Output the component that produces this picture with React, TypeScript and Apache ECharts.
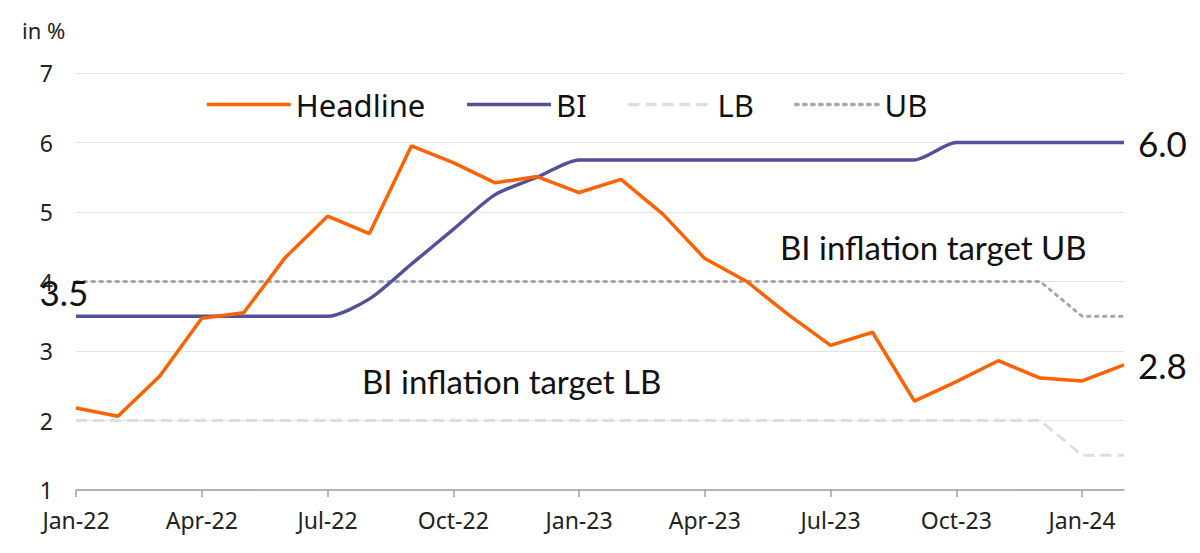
import * as echarts from 'echarts';
import { useEffect, useRef } from 'react';

// Jan-22 .. Feb-24, monthly
const months = [
  'Jan-22', 'Feb-22', 'Mar-22', 'Apr-22', 'May-22', 'Jun-22', 'Jul-22', 'Aug-22', 'Sep-22', 'Oct-22', 'Nov-22', 'Dec-22',
  'Jan-23', 'Feb-23', 'Mar-23', 'Apr-23', 'May-23', 'Jun-23', 'Jul-23', 'Aug-23', 'Sep-23', 'Oct-23', 'Nov-23', 'Dec-23',
  'Jan-24', 'Feb-24',
];

const headline = [
  2.18, 2.06, 2.64, 3.47, 3.55, 4.35, 4.94, 4.69, 5.95, 5.71, 5.42, 5.51,
  5.28, 5.47, 4.97, 4.33, 4.0, 3.52, 3.08, 3.27, 2.28, 2.56, 2.86, 2.61,
  2.57, 2.8,
];

const biRate = [
  3.5, 3.5, 3.5, 3.5, 3.5, 3.5, 3.5, 3.75, 4.25, 4.75, 5.25, 5.5,
  5.75, 5.75, 5.75, 5.75, 5.75, 5.75, 5.75, 5.75, 5.75, 6.0, 6.0, 6.0,
  6.0, 6.0,
];

const lowerBound = [
  2, 2, 2, 2, 2, 2, 2, 2, 2, 2, 2, 2,
  2, 2, 2, 2, 2, 2, 2, 2, 2, 2, 2, 2,
  1.5, 1.5,
];

const upperBound = [
  4, 4, 4, 4, 4, 4, 4, 4, 4, 4, 4, 4,
  4, 4, 4, 4, 4, 4, 4, 4, 4, 4, 4, 4,
  3.5, 3.5,
];

const AXIS_FONT = '"Noto Sans", sans-serif';
const NOTE_FONT = 'Lato, "Open Sans", sans-serif';
const ORANGE = '#ff6200';
const PURPLE = '#525199';

const fmt1 = (p: { value: number | number[] }) => {
  const v = Array.isArray(p.value) ? p.value[1] : p.value;
  return Number(v).toFixed(1);
};

export default function App() {
  const chartRef = useRef<HTMLDivElement>(null);

  useEffect(() => {
    if (!chartRef.current) return;
    const chart = echarts.init(chartRef.current, undefined, { renderer: 'svg' });

    const endLabel = {
      show: true,
      formatter: fmt1,
      fontFamily: NOTE_FONT,
      fontSize: 35,
      color: '#111',
      distance: 14,
    };

    chart.setOption({
      animation: false,
      backgroundColor: '#fff',
      grid: { left: 76, right: 76, top: 73, bottom: 63 },
      legend: {
        top: 84,
        left: 200,
        itemWidth: 84,
        itemHeight: 14,
        itemGap: 40,
        itemStyle: { opacity: 0 },
        lineStyle: { width: 3.5 },
        textStyle: { fontFamily: AXIS_FONT, fontSize: 31, color: '#111' },
        data: ['Headline', 'BI', 'LB', 'UB'],
      },
      xAxis: {
        type: 'category',
        data: months,
        boundaryGap: false,
        axisLine: { lineStyle: { color: '#a0a0a0', width: 1.5 } },
        axisTick: { interval: 2, length: 7, lineStyle: { color: '#a0a0a0', width: 1.5 } },
        axisLabel: { interval: 2, fontFamily: AXIS_FONT, fontSize: 23, color: '#222', margin: 18 },
        splitLine: { show: false },
      },
      yAxis: {
        type: 'value',
        min: 1,
        max: 7,
        interval: 1,
        axisLine: { show: false },
        axisTick: { show: false },
        axisLabel: { fontFamily: AXIS_FONT, fontSize: 23, color: '#222', margin: 23 },
        splitLine: { lineStyle: { color: '#e3e3e3', width: 1.2 } },
      },
      graphic: [
        {
          type: 'text',
          left: 22,
          top: 19,
          style: { text: 'in %', fontFamily: AXIS_FONT, fontSize: 22, fill: '#222' },
        },
        {
          type: 'text',
          left: 780,
          top: 230,
          style: { text: 'BI inflation target UB', fontFamily: NOTE_FONT, fontSize: 33, fill: '#111' },
        },
        {
          type: 'text',
          left: 362,
          top: 364,
          style: { text: 'BI inflation target LB', fontFamily: NOTE_FONT, fontSize: 33, fill: '#111' },
        },
      ],
      series: [
        {
          name: 'LB',
          type: 'line',
          data: lowerBound,
          symbol: 'none',
          lineStyle: { color: '#dedede', width: 3, type: [11, 6] },
          itemStyle: { color: '#dedede' },
          z: 1,
        },
        {
          name: 'UB',
          type: 'line',
          data: upperBound,
          symbol: 'none',
          lineStyle: { color: '#a8a8a8', width: 3, type: [2.5, 5.5], cap: 'round' },
          itemStyle: { color: '#a8a8a8' },
          z: 1,
        },
        {
          name: 'BI',
          type: 'line',
          data: biRate,
          symbol: 'none',
          smooth: 0.25,
          lineStyle: { color: PURPLE, width: 3.5 },
          itemStyle: { color: PURPLE },
          endLabel,
          markPoint: {
            symbol: 'circle',
            symbolSize: 2,
            silent: true,
            itemStyle: { color: 'transparent' },
            label: {
              show: true,
              position: 'inside',
              offset: [-12, -24],
              formatter: fmt1,
              fontFamily: NOTE_FONT,
              fontSize: 35,
              color: '#111',
            },
            data: [{ coord: [0, biRate[0]], value: biRate[0] }],
          },
          z: 3,
        },
        {
          name: 'Headline',
          type: 'line',
          data: headline,
          symbol: 'none',
          lineStyle: { color: ORANGE, width: 3.5 },
          itemStyle: { color: ORANGE },
          endLabel,
          z: 4,
        },
      ],
    });

    return () => chart.dispose();
  }, []);

  return (
    <div
      ref={chartRef}
      style={{ position: 'fixed', left: 0, top: 0, width: 1200, height: 553 }}
    />
  );
}
